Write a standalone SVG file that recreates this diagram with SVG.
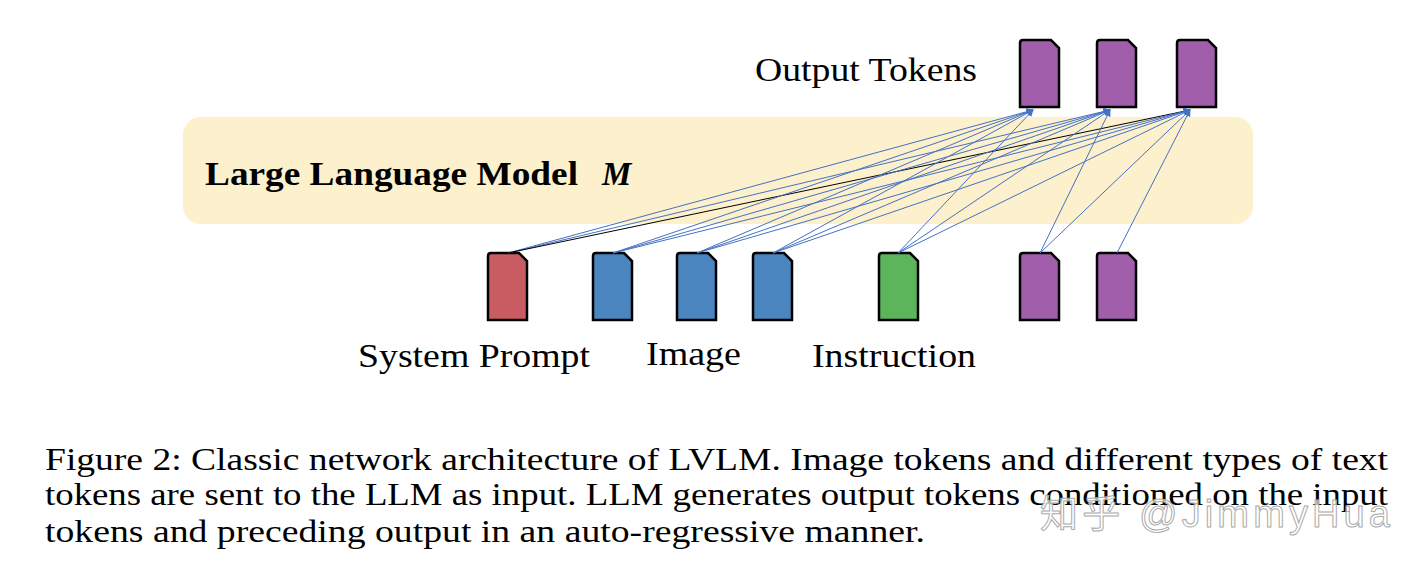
<svg xmlns="http://www.w3.org/2000/svg" width="1424" height="576" viewBox="0 0 1424 576">
<defs>
<marker id="ah" viewBox="0 0 10 10" refX="9" refY="5" markerWidth="7" markerHeight="7" orient="auto" markerUnits="userSpaceOnUse"><path d="M0,0 L10,5 L0,10 z" fill="#4472c4"/></marker>
<path id="tok" d="M3,0 H31 L39,8 V67 H0 V3 Q0,0 3,0 Z"/>
</defs>
<style>
.t{font-family:"Liberation Serif",serif;font-size:33px;fill:#000}
.c{font-family:"Liberation Serif",serif;font-size:32px;fill:#000}
use{stroke:#000;stroke-width:2.5}
.e{stroke:#4472c4;stroke-width:1;fill:none;marker-end:url(#ah)}
</style>
<rect width="1424" height="576" fill="#fff"/>
<g id="llm"><rect x="183" y="117" width="1070" height="107" rx="18" fill="#fdf0cc"/>
<text x="205" y="185" class="t" font-weight="bold" textLength="373" lengthAdjust="spacingAndGlyphs">Large Language Model</text>
<text x="602" y="185" class="t" font-weight="bold" font-style="italic">M</text></g>
<g id="out1"><use href="#tok" x="1020" y="40" fill="#a05eab"/></g>
<g id="out2"><use href="#tok" x="1097" y="40" fill="#a05eab"/></g>
<g id="out3"><use href="#tok" x="1177" y="40" fill="#a05eab"/></g>
<text x="755" y="81" class="t" textLength="222" lengthAdjust="spacingAndGlyphs">Output Tokens</text>
<g id="sys"><use href="#tok" x="488" y="253" fill="#c95b62"/></g>
<g id="img1"><use href="#tok" x="593" y="253" fill="#4a85c0"/></g>
<g id="img2"><use href="#tok" x="677" y="253" fill="#4a85c0"/></g>
<g id="img3"><use href="#tok" x="753" y="253" fill="#4a85c0"/></g>
<g id="ins"><use href="#tok" x="879" y="253" fill="#5cb55b"/></g>
<g id="in1"><use href="#tok" x="1020" y="253" fill="#a05eab"/></g>
<g id="in2"><use href="#tok" x="1097" y="253" fill="#a05eab"/></g>
<text x="358" y="367" class="t" textLength="232" lengthAdjust="spacingAndGlyphs">System Prompt</text>
<text x="646" y="365" class="t" textLength="95" lengthAdjust="spacingAndGlyphs">Image</text>
<text x="812" y="367" class="t" textLength="164" lengthAdjust="spacingAndGlyphs">Instruction</text>
<g id="connectors">
<line class="e" x1="508" y1="253" x2="1033" y2="110"/>
<line class="e" x1="508" y1="253" x2="1110" y2="110"/>
<line class="e" x1="508" y1="253" x2="1190" y2="110" style="stroke:#000"/>
<line class="e" x1="613" y1="253" x2="1033" y2="110"/>
<line class="e" x1="613" y1="253" x2="1110" y2="110"/>
<line class="e" x1="613" y1="253" x2="1190" y2="110"/>
<line class="e" x1="697" y1="253" x2="1033" y2="110"/>
<line class="e" x1="697" y1="253" x2="1110" y2="110"/>
<line class="e" x1="697" y1="253" x2="1190" y2="110"/>
<line class="e" x1="773" y1="253" x2="1033" y2="110"/>
<line class="e" x1="773" y1="253" x2="1110" y2="110"/>
<line class="e" x1="773" y1="253" x2="1190" y2="110"/>
<line class="e" x1="898" y1="253" x2="1033" y2="110"/>
<line class="e" x1="898" y1="253" x2="1110" y2="110"/>
<line class="e" x1="898" y1="253" x2="1190" y2="110"/>
<line class="e" x1="1040" y1="253" x2="1110" y2="110"/>
<line class="e" x1="1040" y1="253" x2="1190" y2="110"/>
<line class="e" x1="1117" y1="253" x2="1190" y2="110"/>
</g>
<text x="45" y="470" class="c" textLength="1343" lengthAdjust="spacingAndGlyphs">Figure 2: Classic network architecture of LVLM. Image tokens and different types of text</text>
<text x="45" y="505" class="c" textLength="1343" lengthAdjust="spacingAndGlyphs">tokens are sent to the LLM as input. LLM generates output tokens conditioned on the input</text>
<text x="45" y="542" class="c" textLength="880" lengthAdjust="spacingAndGlyphs">tokens and preceding output in an auto-regressive manner.</text>
<text x="1040" y="527" font-family="Liberation Sans,'Noto Sans CJK SC',sans-serif" font-size="38" fill="#fff" fill-opacity="0.7" stroke="#aaa" stroke-width="1" textLength="350">知乎 @JimmyHua</text>
</svg>
